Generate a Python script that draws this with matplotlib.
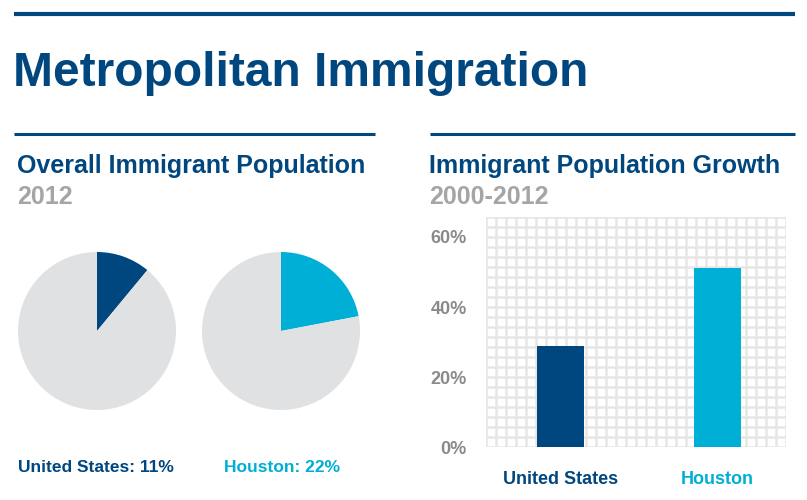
import matplotlib
matplotlib.use("Agg")
import matplotlib.pyplot as plt
from matplotlib.lines import Line2D

# data
pie_labels = ["United States", "Houston"]
pie_shares = [11, 22]
bar_labels = ["United States", "Houston"]
bar_growth = [29, 51]
y_ticks = [0, 20, 40, 60]

DARK = "#00467f"
CYAN = "#00afd5"
PIE_GRAY = "#e0e1e3"
SUB_GRAY = "#a5a5a5"
TICK_GRAY = "#8a8a8a"
GRID = "#e6e6e6"

W, H = 807, 500
fig = plt.figure(figsize=(W / 100, H / 100), dpi=100)
fig.patch.set_facecolor("white")

SANS = ["Liberation Sans", "DejaVu Sans"]


def fx(x):
    return x / W


def fy(y):
    return 1 - y / H


def hline(x0, x1, y, lw):
    fig.add_artist(Line2D([fx(x0), fx(x1)], [fy(y), fy(y)], color=DARK,
                          lw=lw, transform=fig.transFigure, solid_capstyle="butt"))


def box(x0, y0, x1, y1):
    return [fx(x0), fy(y1), fx(x1) - fx(x0), fy(y0) - fy(y1)]


# header rules and titles
hline(14, 795, 14, 3)
fig.text(fx(13), fy(74), "Metropolitan Immigration", color=DARK, fontsize=34.5,
         fontweight="bold", family=SANS, va="center", ha="left")
hline(14, 375, 134, 2.2)
hline(430, 795, 134, 2.2)

fig.text(fx(17), fy(166), "Overall Immigrant Population", color=DARK, fontsize=18,
         fontweight="bold", family=SANS, va="center")
fig.text(fx(17), fy(197), "2012", color=SUB_GRAY, fontsize=18,
         fontweight="bold", family=SANS, va="center")
fig.text(fx(429), fy(166), "Immigrant Population Growth", color=DARK, fontsize=18,
         fontweight="bold", family=SANS, va="center")
fig.text(fx(429), fy(197), "2000-2012", color=SUB_GRAY, fontsize=18,
         fontweight="bold", family=SANS, va="center")

# pies
pie_centers = [97, 281]
pie_colors = [DARK, CYAN]
r = 79
for cx, share, col, lab, tx in zip(pie_centers, pie_shares, pie_colors,
                                   pie_labels, [18, 224]):
    ax = fig.add_axes(box(cx - r, 331 - r, cx + r, 331 + r))
    ax.pie([share, 100 - share], colors=[col, PIE_GRAY], startangle=90,
           counterclock=False, wedgeprops=dict(linewidth=0))
    ax.set_xlim(-1, 1)
    ax.set_ylim(-1, 1)
    ax.set_aspect("equal")
    fig.text(fx(tx), fy(467), f"{lab}: {share}%", color=col, fontsize=12.5,
             fontweight="bold", family=SANS, va="center")

# bar chart
bx = fig.add_axes(box(486, 217, 786, 447))
n_rows = 23
top = n_rows * 20 / 7
for k in range(n_rows + 1):
    bx.axhline(k * 20 / 7, color=GRID, lw=1.8, zorder=0)
for i in range(31):
    bx.axvline(i / 30 * 1.91 - 0.475, color=GRID, lw=1.8, zorder=0)
bx.bar(range(len(bar_labels)), bar_growth, width=0.3, color=pie_colors, zorder=2)
bx.set_xlim(-0.475, 1.435)
bx.set_ylim(0, top)
bx.set_yticks(y_ticks)
bx.set_yticklabels([f"{t}%" for t in y_ticks])
bx.set_xticks(range(len(bar_labels)))
bx.set_xticklabels(bar_labels)
for s in bx.spines.values():
    s.set_visible(False)
bx.tick_params(length=0)
bx.tick_params(axis="y", pad=14)
bx.tick_params(axis="x", pad=17)
for t in bx.get_yticklabels():
    t.set_color(TICK_GRAY)
    t.set_fontsize(13)
    t.set_fontweight("bold")
    t.set_family(SANS)
for t, c in zip(bx.get_xticklabels(), pie_colors):
    t.set_color(c)
    t.set_fontsize(13)
    t.set_fontweight("bold")
    t.set_family(SANS)

fig.savefig("out.png", dpi=100)
